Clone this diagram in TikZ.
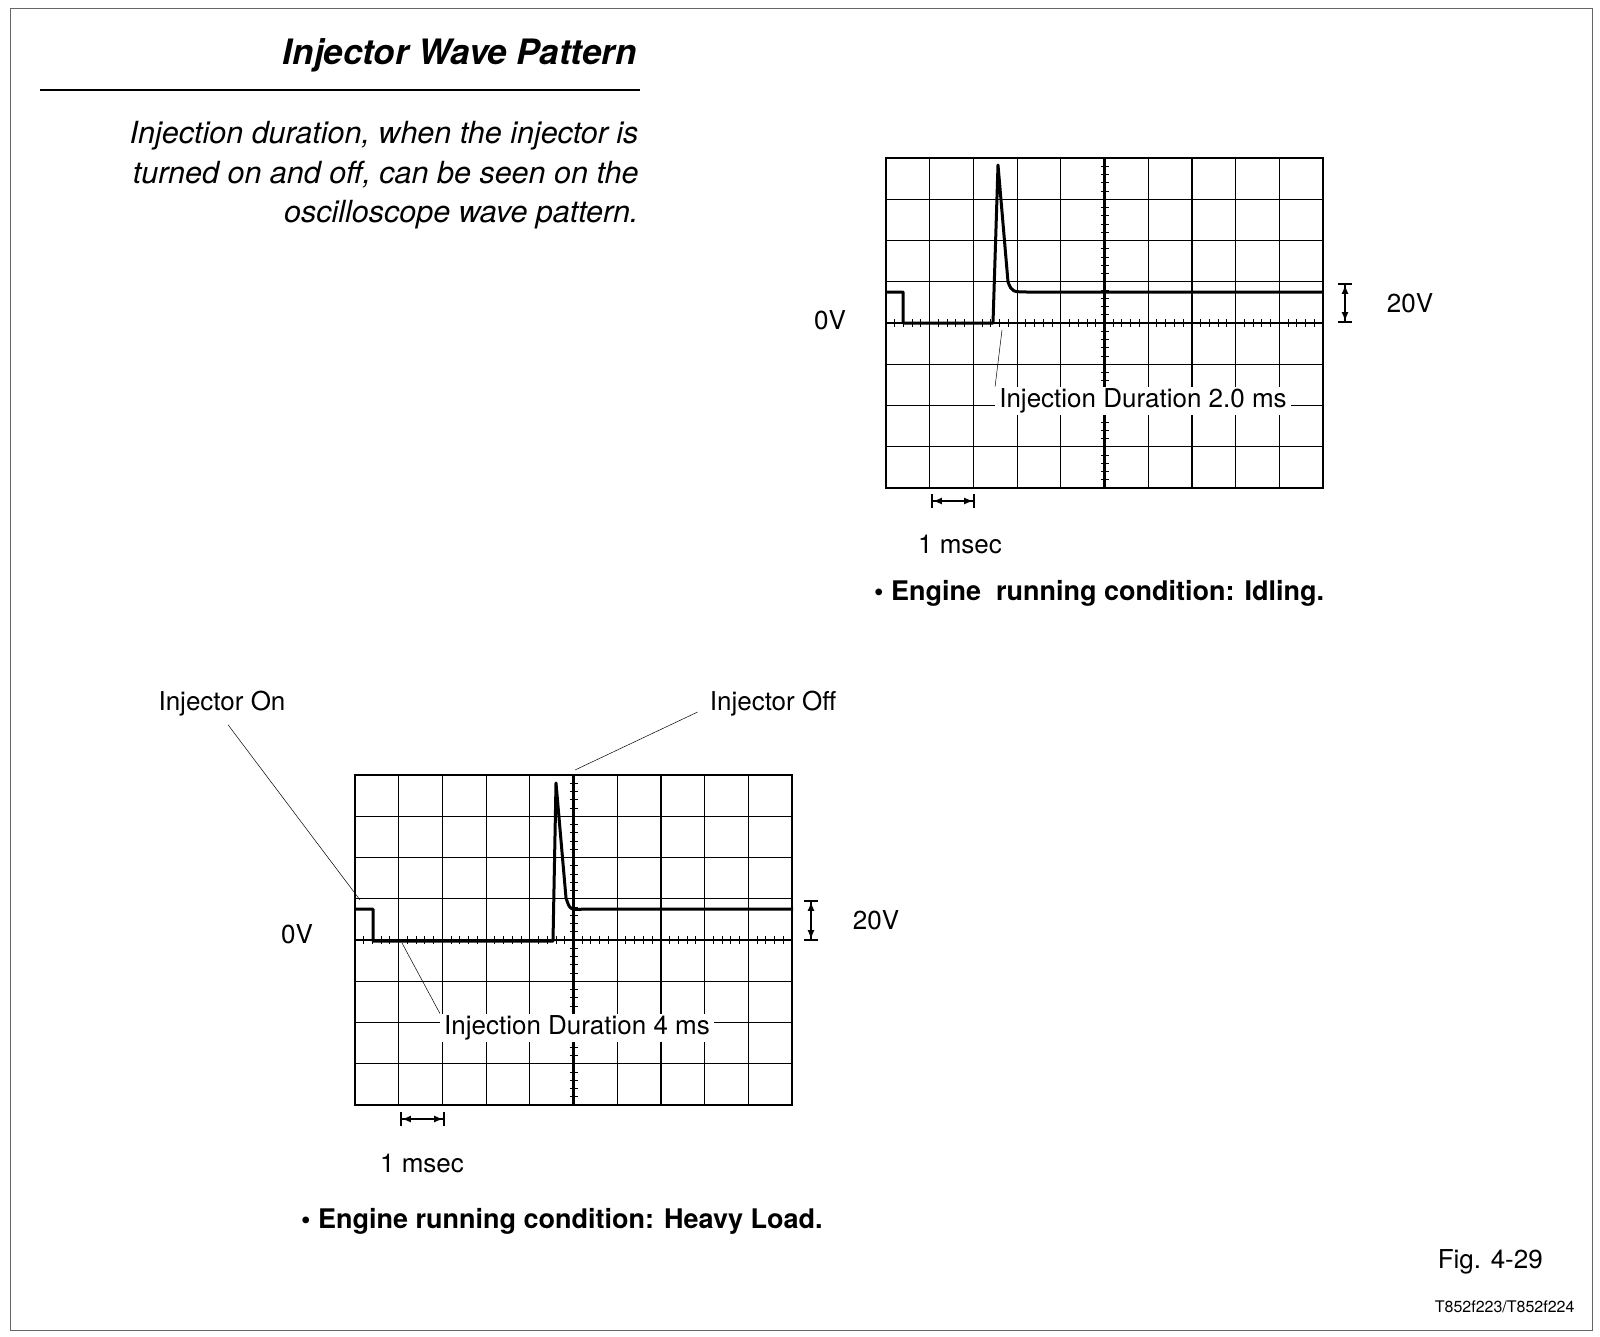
\documentclass[tikz,border=0pt]{standalone}
\usepackage{fontspec}
\setmainfont{TeX Gyre Heros}
\usetikzlibrary{arrows.meta,positioning}

\begin{document}
\begin{tikzpicture}[x=1pt,y=-1pt,
    grid/.style={line width=1.2pt},
    axis/.style={line width=2.8pt},
    wave/.style={line width=3pt, line join=round},
    lead/.style={line width=0.5pt},
    label/.style={font=\fontsize{26}{30}\selectfont, inner xsep=4pt, inner ysep=2pt},
    caption/.style={font=\fontsize{27}{32}\selectfont\bfseries, inner sep=0pt},
    span/.style={arrows={Bar[width=14pt]Latex[length=9pt,width=7pt]-Latex[length=9pt,width=7pt]Bar[width=14pt]}, line width=1.8pt}
]
\useasboundingbox (0,0) rectangle (1600,1336);
\draw[line width=0.8pt, black!60] (10,8) rectangle (1592,1330);

% Heading
\node[font=\fontsize{35}{40}\selectfont\bfseries\itshape, anchor=base east] (title) at (640,64) {Injector Wave Pattern};
\draw[line width=1.6pt] (40,90) -- (640,90);
\node[font=\fontsize{30.5}{39.5}\selectfont\itshape, align=right, anchor=north east] (intro) at (642,118)
    {Injection duration, when the injector is\\turned on and off, can be seen on the\\oscilloscope wave pattern.};

% Oscilloscope screens
\foreach \sx/\sy in {886/158, 355/775} {
  \begin{scope}[shift={(\sx,\sy)}]
    \draw[grid] (0,0) rectangle (437,330);
    \foreach \c in {1,...,9} \draw[grid] (\c*43.7,0) -- (\c*43.7,330);
    \foreach \r in {1,...,7} \draw[grid] (0,\r*41.25) -- (437,\r*41.25);
    \draw[axis] (218.5,0) -- (218.5,330);
    \foreach \t in {1,...,39} \draw[line width=1pt] (218.5-4,\t*8.25) -- (218.5+4,\t*8.25);
    \foreach \t in {1,...,49} \draw[line width=1pt] (\t*8.74,165-4) -- (\t*8.74,165+4);
  \end{scope}
}

% Idling waveform
\draw[wave] (886,292) -- (903,292) -- (903,323) -- (993,323) -- (998,165) -- (1008,282)
    .. controls (1012,292) .. (1030,292) -- (1323,292);
% Heavy load waveform
\draw[wave] (355,909) -- (373,909) -- (373,941) -- (553,941) -- (556,783) -- (566,898)
    .. controls (570,910) .. (585,909) -- (793,909);

% Idling labels
\node[label, fill=white] (dur1) at (1143,401) {Injection Duration 2.0 ms};
\coordinate (dur1tip) at (1002,330);
\draw[lead] (dur1tip) -- (dur1.north west);
\node[label] (zero1) at (830,320) {0V};
\coordinate (v1top) at (1345,283);
\coordinate (v1bot) at (1345,323);
\draw[span] (v1top) -- (v1bot);
\node[label] (volt1) at (1410,303) {20V};
\coordinate (ms1a) at (931,501);
\coordinate (ms1b) at (975,501);
\draw[span] (ms1a) -- (ms1b);
\node[label] (msec1) at (960,544) {1 msec};
\node[caption, anchor=west] (cond1) at (874,593) {• Engine\ \ running condition: Idling.};

% Heavy load labels
\node[label, fill=white] (dur2) at (577,1028) {Injection Duration 4 ms};
\coordinate (dur2tip) at (402,943);
\draw[lead] (dur2tip) -- (dur2.north west);
\node[label] (injon) at (222,704) {Injector On};
\coordinate (ontip) at (360,900);
\draw[lead] (injon.south) ++(6,6) coordinate (onstart) -- (ontip);
\node[label] (injoff) at (773,704) {Injector Off};
\coordinate (offtip) at (575,770);
\draw[lead] (injoff.west) ++(-8,8) coordinate (offstart) -- (offtip);
\node[label] (zero2) at (297,934) {0V};
\coordinate (v2top) at (811,900);
\coordinate (v2bot) at (811,941);
\draw[span] (v2top) -- (v2bot);
\node[label] (volt2) at (876,920) {20V};
\coordinate (ms2a) at (400,1119);
\coordinate (ms2b) at (445,1119);
\draw[span] (ms2a) -- (ms2b);
\node[label] (msec2) at (422,1163) {1 msec};
\node[caption, anchor=west] (cond2) at (301,1221) {• Engine running condition: Heavy Load.};

% Figure number
\node[label, anchor=east] (fig) at (1547,1262) {Fig. 4-29};
\node[font=\fontsize{16}{18}\selectfont, anchor=east] (code) at (1578,1307) {T852f223/T852f224};
\end{tikzpicture}
\end{document}
